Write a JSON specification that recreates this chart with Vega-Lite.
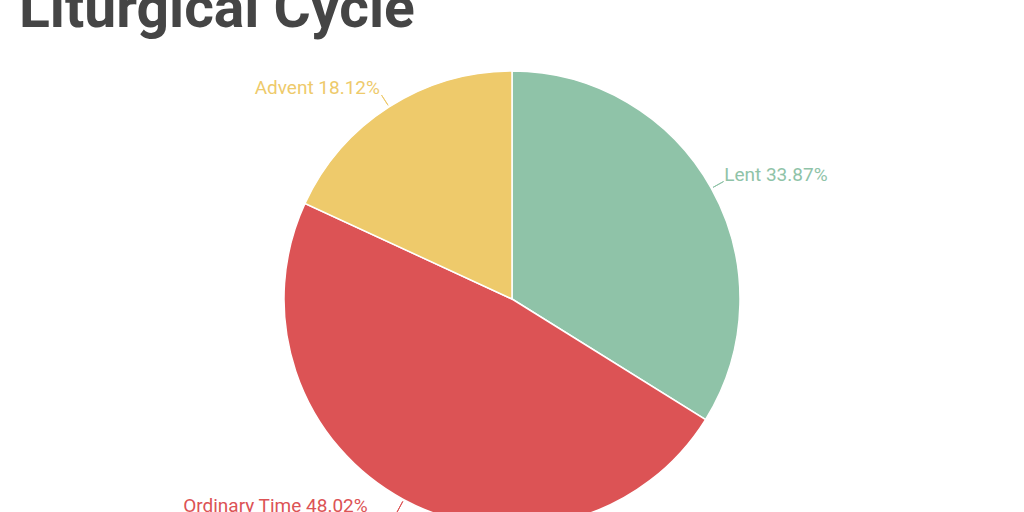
{
  "$schema": "https://vega.github.io/schema/vega-lite/v6.json",
  "width": 1024,
  "height": 456,
  "autosize": "none",
  "padding": {"top": 71, "left": 0, "right": 0, "bottom": 0},
  "background": "#ffffff",
  "title": {
    "text": "Liturgical Cycle",
    "anchor": "start",
    "frame": "group",
    "font": "Roboto",
    "fontSize": 57,
    "fontWeight": "bold",
    "color": "#454545",
    "baseline": "top",
    "dx": 19,
    "dy": -29,
    "offset": 0
  },
  "data": {
    "values": [
      {"season": "Lent", "share": 33.87, "rank": 1, "label": "Lent 33.87%"},
      {"season": "Ordinary Time", "share": 48.02, "rank": 2, "label": "Ordinary Time 48.02%"},
      {"season": "Advent", "share": 18.12, "rank": 3, "label": "Advent 18.12%"}
    ]
  },
  "encoding": {
    "theta": {"field": "share", "type": "quantitative", "stack": true},
    "order": {"field": "rank", "type": "ordinal"},
    "color": {
      "field": "season",
      "type": "nominal",
      "scale": {"domain": ["Lent", "Ordinary Time", "Advent"], "range": ["#8fc3a8", "#dc5355", "#eeca6b"]},
      "legend": null
    }
  },
  "layer": [
    {
      "mark": {"type": "arc", "outerRadius": 228, "stroke": "#ffffff", "strokeWidth": 1.5}
    },
    {
      "mark": {"type": "arc", "innerRadius": 230, "outerRadius": 242, "padAngle": 3, "fillOpacity": 0, "strokeWidth": 1},
      "encoding": {
        "stroke": {"field": "season", "type": "nominal", "scale": {"domain": ["Lent", "Ordinary Time", "Advent"], "range": ["#8fc3a8", "#dc5355", "#eeca6b"]}, "legend": null}
      }
    },
    {
      "mark": {"type": "text", "radius": 245, "align": "left", "baseline": "alphabetic", "font": "Roboto", "fontSize": 19, "dx": -2, "dy": 1},
      "encoding": {
        "text": {"field": "label"},
        "opacity": {"condition": {"test": "datum.season === 'Lent'", "value": 1}, "value": 0}
      }
    },
    {
      "mark": {"type": "text", "radius": 245, "align": "right", "baseline": "alphabetic", "font": "Roboto", "fontSize": 19, "dy": 1},
      "encoding": {
        "text": {"field": "label"},
        "opacity": {"condition": {"test": "datum.season === 'Advent'", "value": 1}, "value": 0}
      }
    },
    {
      "mark": {"type": "text", "radius": 245, "align": "right", "baseline": "alphabetic", "font": "Roboto", "fontSize": 19, "dx": -28, "dy": -3},
      "encoding": {
        "text": {"field": "label"},
        "opacity": {"condition": {"test": "datum.season === 'Ordinary Time'", "value": 1}, "value": 0}
      }
    }
  ]
}
